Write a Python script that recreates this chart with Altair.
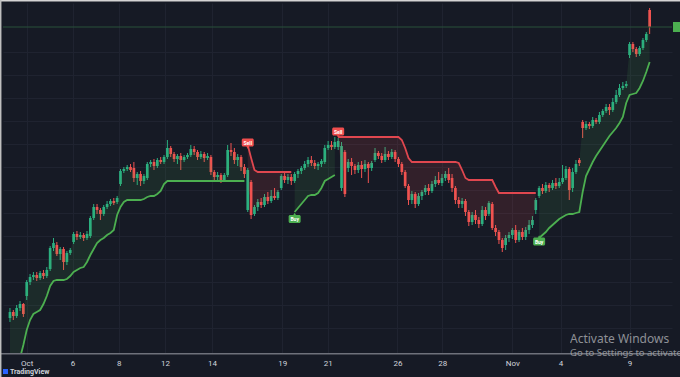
import json
import altair as alt
import pandas as pd

# ---------------- data (hourly candles) ----------------
opens = [
    82, 88, 84, 92, 96, 104, 118, 123, 125, 122,
    127, 124, 131, 152, 155, 146, 151, 138, 147, 158,
    166, 163, 165, 162, 164, 182, 193, 190, 186, 193,
    196, 199, 198, 216, 229, 231, 233, 232, 222, 226,
    219, 222, 236, 238, 234, 240, 238, 243, 252, 246,
    241, 244, 240, 243, 245, 251, 248, 243, 246, 242,
    243, 228, 223, 225, 220, 225, 250, 248, 240, 243,
    233, 190, 218, 186, 193, 198, 195, 203, 199, 204,
    202, 212, 224, 220, 223, 219, 226, 229, 232, 236,
    240, 237, 234, 236, 238, 252, 255, 253, 253, 212,
    248, 232, 238, 234, 230, 235, 231, 236, 232, 240,
    247, 244, 240, 246, 243, 248, 241, 236, 228, 214,
    200, 206, 196, 204, 208, 212, 209, 216, 220, 217,
    222, 226, 222, 212, 200, 196, 199, 188, 178, 185,
    180, 176, 190, 186, 196, 172, 168, 160, 155, 162,
    165, 170, 160, 168, 163, 170, 175, 190, 204, 212,
    209, 215, 212, 217, 214, 218, 222, 231, 212, 228,
    240, 278, 272, 276, 274, 280, 278, 285, 289, 293,
    290, 298, 305, 312, 314, 345, 356, 351, 346, 352,
    360, 390,
]
highs = [
    92, 90, 95, 99, 97, 120, 126, 128, 128, 129,
    130, 133, 154, 162, 158, 153, 153, 149, 152, 168,
    169, 168, 167, 169, 184, 196, 196, 192, 195, 199,
    201, 202, 204, 231, 233, 235, 236, 238, 228, 229,
    226, 238, 240, 241, 242, 243, 245, 260, 254, 248,
    246, 247, 245, 247, 255, 254, 250, 249, 248, 247,
    245, 230, 228, 227, 227, 255, 257, 252, 246, 245,
    236, 232, 220, 195, 201, 202, 206, 208, 210, 212,
    210, 226, 227, 226, 226, 228, 231, 234, 239, 243,
    244, 240, 238, 241, 255, 259, 259, 263, 262, 258,
    250, 241, 242, 236, 238, 239, 240, 238, 239, 252,
    249, 247, 253, 249, 251, 250, 243, 238, 230, 216,
    209, 208, 207, 210, 215, 216, 219, 224, 228, 226,
    229, 232, 226, 214, 203, 202, 201, 190, 188, 190,
    183, 194, 193, 199, 198, 175, 170, 162, 165, 168,
    172, 175, 170, 172, 173, 180, 184, 202, 214, 216,
    218, 217, 220, 222, 222, 235, 234, 233, 232, 240,
    242, 280, 279, 278, 283, 282, 288, 291, 296, 296,
    302, 310, 316, 318, 319, 358, 358, 353, 354, 362,
    368, 392,
]
lows = [
    78, 80, 82, 89, 83, 100, 115, 120, 119, 120,
    121, 122, 129, 149, 144, 140, 130, 135, 145, 156,
    160, 161, 159, 160, 162, 180, 186, 180, 184, 191,
    194, 195, 196, 214, 227, 229, 228, 218, 215, 214,
    216, 220, 233, 230, 232, 236, 236, 241, 243, 238,
    236, 230, 238, 241, 243, 245, 240, 241, 238, 240,
    225, 219, 218, 217, 218, 223, 244, 236, 234, 229,
    222, 188, 181, 184, 189, 192, 193, 196, 197, 200,
    200, 210, 217, 216, 215, 217, 222, 226, 230, 233,
    234, 231, 230, 233, 236, 250, 250, 251, 250, 209,
    203, 228, 225, 226, 227, 222, 228, 217, 229, 238,
    241, 237, 238, 240, 241, 238, 233, 225, 212, 195,
    196, 192, 194, 200, 205, 205, 207, 213, 215, 214,
    219, 217, 208, 196, 192, 192, 184, 174, 175, 176,
    172, 174, 180, 184, 170, 164, 156, 148, 150, 158,
    161, 157, 158, 160, 160, 166, 172, 186, 202, 206,
    207, 208, 210, 211, 212, 216, 220, 200, 208, 226,
    234, 262, 270, 271, 272, 276, 276, 283, 287, 285,
    288, 296, 303, 310, 312, 342, 348, 343, 344, 350,
    358, 366,
]
closes = [
    88, 84, 92, 96, 86, 118, 123, 125, 122, 127,
    124, 130, 152, 157, 146, 151, 138, 147, 150, 166,
    163, 165, 162, 166, 182, 193, 190, 186, 193, 196,
    199, 197, 202, 229, 231, 233, 230, 222, 226, 219,
    224, 236, 238, 234, 240, 238, 243, 252, 246, 241,
    244, 240, 243, 245, 251, 248, 243, 246, 242, 244,
    228, 223, 225, 220, 225, 250, 248, 240, 243, 233,
    226, 230, 185, 193, 198, 195, 203, 199, 204, 202,
    208, 224, 220, 223, 219, 226, 229, 232, 236, 240,
    237, 234, 236, 239, 252, 255, 253, 258, 259, 254,
    206, 238, 234, 230, 235, 231, 236, 232, 237, 247,
    244, 240, 246, 243, 248, 241, 236, 228, 214, 200,
    206, 196, 204, 208, 212, 209, 216, 220, 217, 222,
    226, 220, 212, 200, 196, 199, 188, 178, 185, 180,
    176, 190, 184, 197, 172, 168, 160, 152, 162, 165,
    170, 160, 168, 163, 170, 175, 180, 200, 212, 209,
    215, 212, 217, 214, 218, 222, 231, 210, 228, 236,
    237, 272, 276, 274, 280, 278, 285, 289, 293, 290,
    298, 305, 312, 314, 316, 356, 351, 346, 352, 360,
    366, 373,
]
supertrend = [
    26, 30, 35, 42, 55, 70, 80, 86, 88, 90,
    96, 104, 114, 119, 120, 120, 120, 121, 124, 128,
    130, 132, 133, 138, 145, 151, 157, 160, 162, 165,
    167, 170, 185, 193, 198, 200, 200, 200, 200, 200,
    201, 203, 204, 204, 206, 209, 216, 219, 219, 219,
    219, 219, 219, 219, 219, 219, 219, 219, 219, 219,
    219, 219, 219, 219, 219, 219, 219, 219, 219, 219,
    219, 255, 242, 230, 228, 228, 228, 228, 228, 228,
    228, 228, 228, 228, 228, 188, 192, 196, 200, 204,
    205, 205, 207, 212, 219, 221, 223, 225, 263, 263,
    263, 263, 263, 263, 263, 263, 263, 263, 263, 263,
    263, 263, 263, 263, 263, 263, 263, 260, 252, 242,
    238, 238, 238, 238, 238, 238, 238, 238, 238, 238,
    238, 238, 238, 238, 237, 230, 222, 220, 220, 220,
    220, 220, 220, 220, 220, 213, 207, 207, 207, 207,
    207, 207, 207, 207, 207, 207, 207, 207, 162, 165,
    168, 172, 175, 178, 181, 183, 185, 186, 186, 187,
    188, 208, 224, 231, 238, 244, 249, 254, 259, 264,
    268, 272, 277, 283, 297, 305, 306, 307, 312, 319,
    328, 338,
]
trend_runs = [("up", 71), ("down", 14), ("up", 13), ("down", 60), ("up", 34)]

signal_idx = [71, 85, 98, 158]
signal_text = ["Sell", "Buy", "Sell", "Buy"]
signal_price = [257.5, 181, 268.5, 158.5]

tick_pos = [5.0, 18.7, 32.5, 46.3, 60.3, 81.3, 94.9, 115.7, 129.1, 150.0, 164.4, 185.0]
tick_labels = ["Oct", "6", "8", "12", "14", "19", "21", "26", "28", "Nov", "4", "9"]
ygrid = [348, 325, 302, 279, 256, 233, 210, 187, 164, 141, 118, 95, 72]

# ---------------- build tables ----------------
trend, seg = [], []
for k, (t, n) in enumerate(trend_runs):
    trend += [t] * n
    seg += [k] * n

df = pd.DataFrame({
    "i": list(range(len(closes))),
    "open": opens, "high": highs, "low": lows, "close": closes,
    "st": supertrend, "trend": trend, "seg": seg,
})
df["mid"] = (df["open"] + df["close"]) / 2

sig = pd.DataFrame({"i": signal_idx, "txt": signal_text, "p": signal_price})
last = pd.DataFrame({"p": [closes[-1]]})

BG = "#161a25"
GRID = "#1f2330"
CGREEN = "#2bb080"
CRED = "#ef5350"
LGREEN = "#4caf50"
LRED = "#e0474f"

W, H = 669, 350
xscale = alt.Scale(domain=[-0.588, 196.18], nice=False, zero=False)
yscale = alt.Scale(domain=[47, 397], nice=False, zero=False)

label_expr = f"{json.dumps(tick_labels)}[indexof({json.dumps(tick_pos)}, datum.value)]"
xaxis = alt.Axis(values=tick_pos, labelExpr=label_expr, title=None, ticks=False,
                 domain=False, grid=True, gridColor=GRID, gridWidth=1,
                 labelColor="#d1d4dc", labelFontSize=8, labelFont="Roboto",
                 labelPadding=6, labelFlush=False, labelOverlap=False)
yaxis = alt.Axis(values=ygrid, labels=False, ticks=False, domain=False, title=None,
                 grid=True, gridColor=GRID, gridWidth=1)

X = alt.X("i:Q", scale=xscale, axis=xaxis)


def Y(f):
    return alt.Y(f"{f}:Q", scale=yscale, axis=yaxis)


base = alt.Chart(df)
up_cond = alt.condition("datum.close >= datum.open", alt.value(CGREEN), alt.value(CRED))

wicks = base.mark_rule(strokeWidth=1, clip=True).encode(x=X, y=Y("low"), y2="high:Q", color=up_cond)
bodies = base.mark_bar(size=2.7, clip=True).encode(x=X, y=Y("open"), y2="close:Q", color=up_cond)

fill_up = base.transform_filter("datum.trend == 'up'").mark_area(
    color=LGREEN, opacity=0.12, clip=True).encode(x=X, y=Y("st"), y2="mid:Q", detail="seg:N")
fill_dn = base.transform_filter("datum.trend == 'down'").mark_area(
    color="#ff5252", opacity=0.12, clip=True).encode(x=X, y=Y("st"), y2="mid:Q", detail="seg:N")
line_up = base.transform_filter("datum.trend == 'up'").mark_line(
    color=LGREEN, strokeWidth=1.8, clip=True).encode(x=X, y=Y("st"), detail="seg:N")
line_dn = base.transform_filter("datum.trend == 'down'").mark_line(
    color=LRED, strokeWidth=1.8, clip=True).encode(x=X, y=Y("st"), detail="seg:N")

price_line = alt.Chart(last).mark_rule(color="#29503a", strokeWidth=1).encode(
    y=Y("p"), x=alt.value(0), x2=alt.value(W))
price_tag = alt.Chart(last).transform_calculate(lo="datum.p - 5", hi="datum.p + 5").mark_rect(
    color=LGREEN).encode(y=Y("lo"), y2="hi:Q", x=alt.value(W + 1), x2=alt.value(W + 9))

sig_base = alt.Chart(sig).transform_calculate(lo="datum.p - 4", hi="datum.p + 4")
sig_col = alt.condition("datum.txt == 'Sell'", alt.value("#f04e4e"), alt.value(LGREEN))
sig_box = sig_base.mark_bar(size=12, cornerRadius=1.5).encode(x=X, y=Y("lo"), y2="hi:Q", color=sig_col)
sell_tail = sig_base.transform_filter("datum.txt == 'Sell'").transform_calculate(
    t="datum.p - 5").mark_point(shape="triangle-down", filled=True, size=9, opacity=1,
                                color="#f04e4e").encode(x=X, y=Y("t"))
buy_tail = sig_base.transform_filter("datum.txt == 'Buy'").transform_calculate(
    t="datum.p + 5").mark_point(shape="triangle-up", filled=True, size=9, opacity=1,
                                color=LGREEN).encode(x=X, y=Y("t"))
sig_txt = sig_base.mark_text(fontSize=5, fontWeight="bold", color="white",
                             font="Roboto", baseline="middle", align="center").encode(
    x=X, y=Y("p"), text="txt:N")

one = pd.DataFrame({"a": [0]})
sep = alt.Chart(one).mark_rule(color="#6e717b", strokeWidth=1.5).encode(
    x=alt.value(-3), x2=alt.value(W + 11), y=alt.value(H + 0.8))
top_border = alt.Chart(one).mark_rule(color="#d4d4d4", strokeWidth=1.5).encode(
    x=alt.value(-3), x2=alt.value(W + 11), y=alt.value(-2.3))
left_border = alt.Chart(one).mark_rule(color="#bfbfbf", strokeWidth=1.5).encode(
    x=alt.value(-2.3), y=alt.value(-3), y2=alt.value(H + 24))

wm1 = alt.Chart(pd.DataFrame({"t": ["Activate Windows"]})).mark_text(
    align="left", baseline="middle", fontSize=12, font="Noto Sans", color="#a3a5aa",
    opacity=0.85).encode(x=alt.value(567), y=alt.value(336), text="t:N")
wm2 = alt.Chart(pd.DataFrame({"t": ["Go to Settings to activate Windows."]})).mark_text(
    align="left", baseline="middle", fontSize=9.5, font="Noto Sans", color="#a3a5aa",
    opacity=0.85).encode(x=alt.value(567), y=alt.value(350), text="t:N")
tv_logo = alt.Chart(one).mark_rect(color="#2962ff").encode(
    x=alt.value(0), x2=alt.value(5), y=alt.value(H + 16), y2=alt.value(H + 21))
tv_txt = alt.Chart(pd.DataFrame({"t": ["TradingView"]})).mark_text(
    align="left", baseline="middle", fontSize=7, font="Roboto", fontWeight="bold",
    color="#d1d4dc").encode(x=alt.value(7), y=alt.value(H + 19), text="t:N")

chart = alt.layer(
    wicks, bodies, fill_up, fill_dn, line_up, line_dn, price_line, price_tag,
    sig_box, sell_tail, buy_tail, sig_txt, sep, top_border, left_border,
    wm1, wm2, tv_logo, tv_txt,
).properties(
    width=W, height=H,
    padding={"left": 3, "top": 3, "right": 8, "bottom": 24},
    autosize=alt.AutoSizeParams(type="none"),
    background=BG,
).configure_view(strokeWidth=0)

chart.save("out.html", embed_options={"renderer": "svg", "actions": False})
